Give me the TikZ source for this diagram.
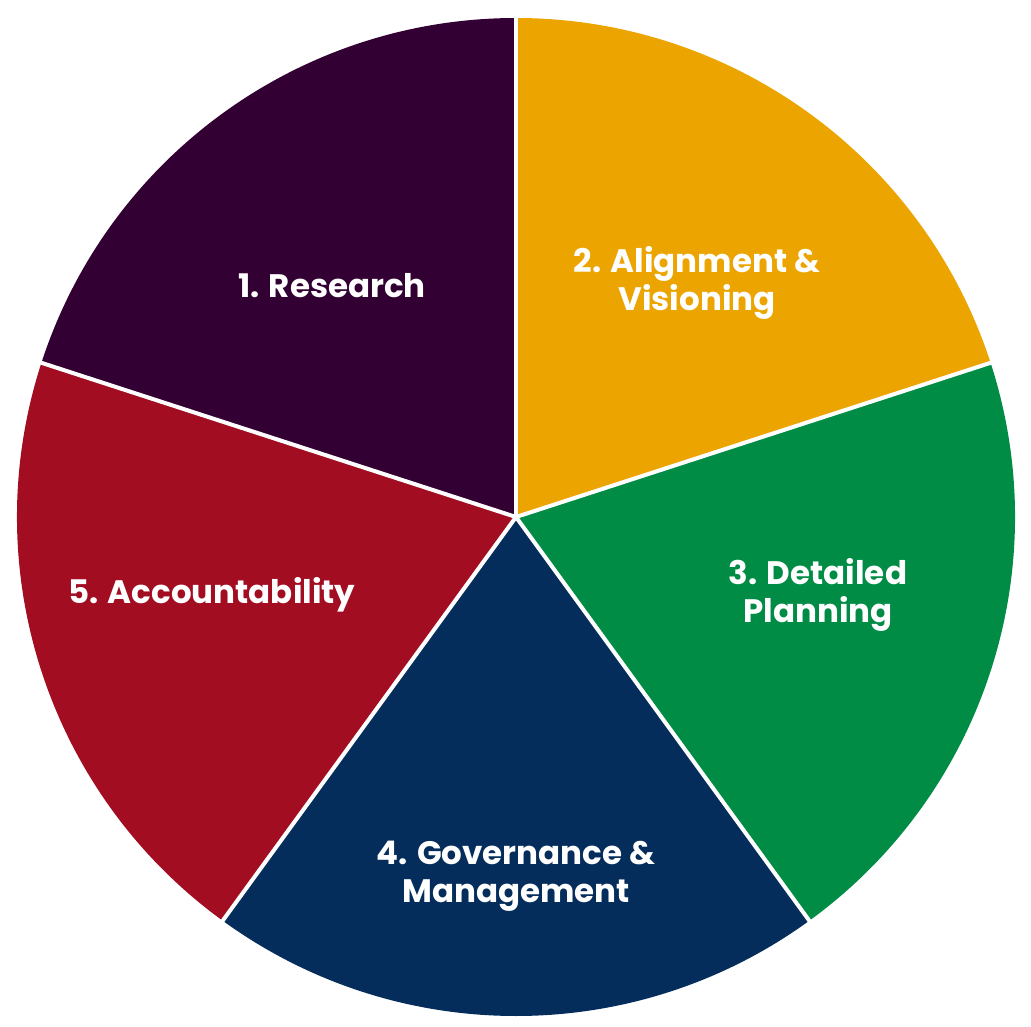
\documentclass[tikz,border=0pt]{standalone}
\usepackage{fontspec}
\setmainfont{Poppins}
\definecolor{cpurple}{HTML}{330033}
\definecolor{cgold}{HTML}{EBA400}
\definecolor{cgreen}{HTML}{008C45}
\definecolor{cnavy}{HTML}{052D5C}
\definecolor{cred}{HTML}{A20D22}
\begin{document}
\begin{tikzpicture}[x=1pt,y=-1pt,
  lbl/.style={text=white,font=\fontsize{32.5}{38}\selectfont\bfseries,align=center,inner sep=0pt}]
\useasboundingbox (0,0) rectangle (1031,1027);
\coordinate (c) at (516,517);
\def\R{499}
\fill[cpurple] (c) -- ++(-90:\R) arc[start angle=-90,end angle=-162,radius=\R] -- cycle;
\fill[cgold] (c) -- ++(-18:\R) arc[start angle=-18,end angle=-90,radius=\R] -- cycle;
\fill[cgreen] (c) -- ++(54:\R) arc[start angle=54,end angle=-18,radius=\R] -- cycle;
\fill[cnavy] (c) -- ++(126:\R) arc[start angle=126,end angle=54,radius=\R] -- cycle;
\fill[cred] (c) -- ++(198:\R) arc[start angle=198,end angle=126,radius=\R] -- cycle;
\foreach \a in {-90,-18,54,126,198} \draw[white,line width=4pt] (c) -- ++(\a:\R+2);
\node[lbl] (l1) at (332,286) {1. Research};
\node[lbl] (l2) at (697,283) {2. Alignment \&\\Visioning};
\node[lbl] (l3) at (818,595) {3. Detailed\\Planning};
\node[lbl] (l4) at (516,876) {4. Governance \&\\Management};
\node[lbl] (l5) at (212,595) {5. Accountability};
\end{tikzpicture}
\end{document}
